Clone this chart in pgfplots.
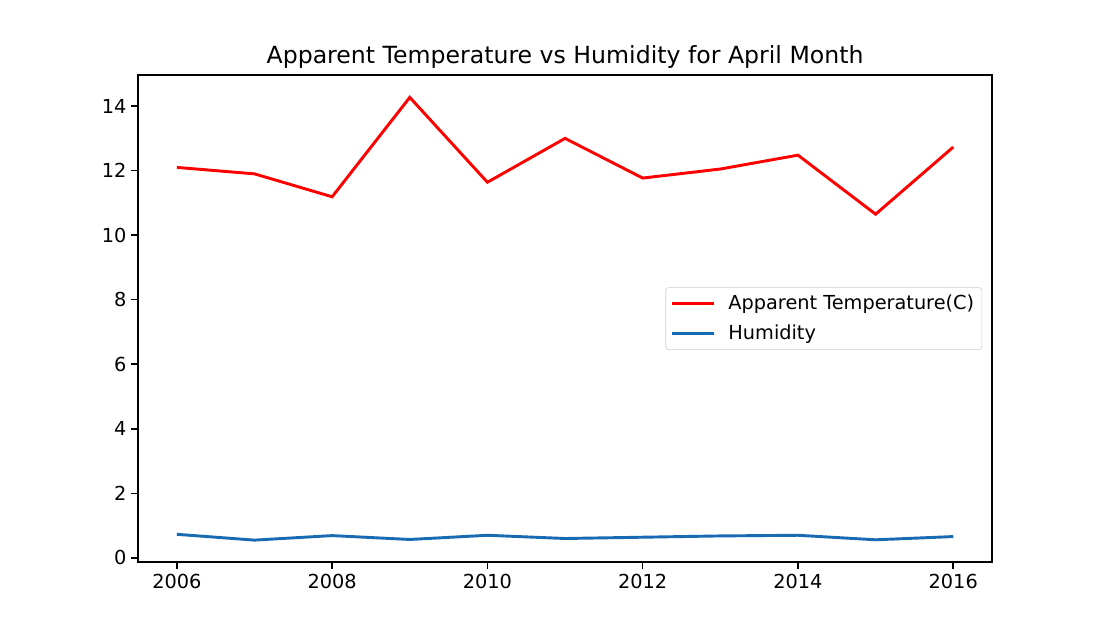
\documentclass[border=0pt]{standalone}
\usepackage{pgfplots}
\pgfplotsset{compat=1.18}
\usepackage{fontspec}
\setmainfont{DejaVu Sans}
\definecolor{tabblue}{RGB}{24,106,178}

\begin{document}
\begin{tikzpicture}
\begin{axis}[
    scale only axis,
    width=614.9pt, height=350.6pt,
    xmin=2005.5, xmax=2016.5,
    ymin=-0.13, ymax=14.96,
    xtick={2006,2008,2010,2012,2014,2016},
    ytick={0,2,4,6,8,10,12,14},
    xticklabel style={/pgf/number format/1000 sep={}},
    /pgf/number format/assume math mode=true,
    tick label style={font=\fontsize{13.9}{16}\selectfont},
    tick align=outside,
    major tick length=4.9pt,
    xtick pos=bottom, ytick pos=left,
    axis line style={line width=1.1pt},
    every tick/.style={black, line width=1.1pt},
    title={Apparent Temperature vs Humidity for April Month},
    title style={font=\fontsize{17}{19}\selectfont, yshift=-4.5pt},
    legend style={at={(rel axis cs:1,0.5)}, anchor=east, xshift=-7.2pt,
        draw=black!20, rounded corners=2pt, font=\fontsize{13.9}{16}\selectfont,
        inner sep=3.5pt, row sep=5.5pt},
    legend cell align=left,
    legend image code/.code={\draw[#1] (0cm,0cm) -- (1.05cm,0cm);
        \path (1.32cm,0cm);},
]
\addplot[color=red, line width=2.1pt] coordinates {
    (2006, 12.10) (2007, 11.90) (2008, 11.19) (2009, 14.27) (2010, 11.64)
    (2011, 13.00) (2012, 11.77) (2013, 12.05) (2014, 12.48) (2015, 10.65)
    (2016, 12.73)
};
\addlegendentry{Apparent Temperature(C)}
\addplot[color=tabblue, line width=2.1pt] coordinates {
    (2006, 0.73) (2007, 0.55) (2008, 0.69) (2009, 0.57) (2010, 0.70)
    (2011, 0.60) (2012, 0.64) (2013, 0.68) (2014, 0.70) (2015, 0.56)
    (2016, 0.66)
};
\addlegendentry{Humidity}
\end{axis}
\path (current axis.south west) ++(-99.4pt,-51.8pt) rectangle ++(794.9pt,456.5pt);
\end{tikzpicture}
\end{document}
